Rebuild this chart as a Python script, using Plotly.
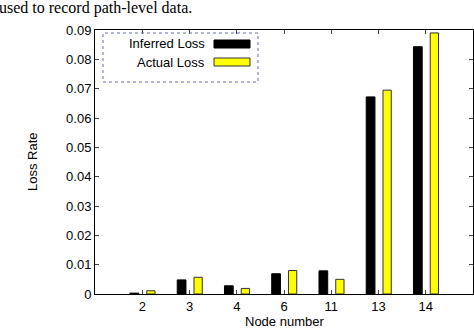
import plotly.graph_objects as go

nodes = ["2", "3", "4", "6", "11", "13", "14"]
inferred_loss = [0.0003, 0.0048, 0.0028, 0.0069, 0.0079, 0.0672, 0.0843]
actual_loss = [0.0011, 0.0057, 0.0019, 0.0080, 0.0050, 0.0695, 0.0890]
y_ticks = [0, 0.01, 0.02, 0.03, 0.04, 0.05, 0.06, 0.07, 0.08, 0.09]
y_tick_labels = ["0", "0.01", "0.02", "0.03", "0.04", "0.05", "0.06", "0.07", "0.08", "0.09"]

xpos = list(range(1, len(nodes) + 1))
FONT = "Liberation Sans, Arial, sans-serif"

fig = go.Figure()
fig.add_trace(go.Bar(x=xpos, y=inferred_loss, name="Inferred Loss", width=0.185, offset=-0.26,
                     marker=dict(color="black", line=dict(color="black", width=1))))
fig.add_trace(go.Bar(x=xpos, y=actual_loss, name="Actual Loss", width=0.175, offset=0.095,
                     marker=dict(color="#ffff00", line=dict(color="#333333", width=1))))

fig.update_layout(
    width=474, height=330,
    margin=dict(l=95, r=1, t=30, b=36),
    paper_bgcolor="white", plot_bgcolor="white",
    showlegend=False,
    barmode="overlay",
    font=dict(family=FONT, size=13, color="black"),
    xaxis=dict(range=[0, 8], tickvals=xpos, ticktext=nodes, ticks="inside", ticklen=4,
               showline=True, linecolor="black", linewidth=1, mirror="allticks",
               showgrid=False, zeroline=False, tickfont=dict(size=13)),
    yaxis=dict(range=[0, 0.09], tickvals=y_ticks, ticktext=y_tick_labels, ticks="inside", ticklen=4,
               showline=True, linecolor="black", linewidth=1, mirror="allticks",
               showgrid=False, zeroline=False, tickfont=dict(size=13)),
)

def px_x(p):
    return (p - 95) / 378.0

def px_y(p):
    return (294 - p) / 264.0

# axis titles
fig.add_annotation(text="Loss Rate", xref="paper", yref="paper", x=px_x(32), y=0.5,
                   textangle=-90, showarrow=False, font=dict(size=13), xanchor="center", yanchor="middle")
fig.add_annotation(text="Node number", xref="paper", yref="paper", x=px_x(284), y=px_y(321),
                   showarrow=False, font=dict(size=13), xanchor="center", yanchor="middle")

# header text from surrounding page
fig.add_annotation(text="used to record path-level data.", xref="paper", yref="paper",
                   x=px_x(-3), y=px_y(8), xanchor="left", yanchor="middle", showarrow=False,
                   font=dict(family="Liberation Serif, Times New Roman, serif", size=16, color="black"))

# legend box drawn manually (gnuplot style)
fig.add_shape(type="rect", xref="paper", yref="paper",
              x0=px_x(103), x1=px_x(258), y0=px_y(82), y1=px_y(33),
              line=dict(color="#6666cc", width=1, dash="dot"), fillcolor="rgba(0,0,0,0)")
legend_rows = [("Inferred Loss", "black", "black", 44), ("Actual Loss", "#ffff00", "#333333", 62)]
for label, fill, edge, yc in legend_rows:
    fig.add_annotation(text=label, xref="paper", yref="paper", x=px_x(207), y=px_y(yc),
                       xanchor="right", yanchor="middle", showarrow=False, font=dict(size=13))
    fig.add_shape(type="rect", xref="paper", yref="paper",
                  x0=px_x(214), x1=px_x(250), y0=px_y(yc + 4), y1=px_y(yc - 4),
                  line=dict(color=edge, width=1), fillcolor=fill)

fig.write_html("out.html")
